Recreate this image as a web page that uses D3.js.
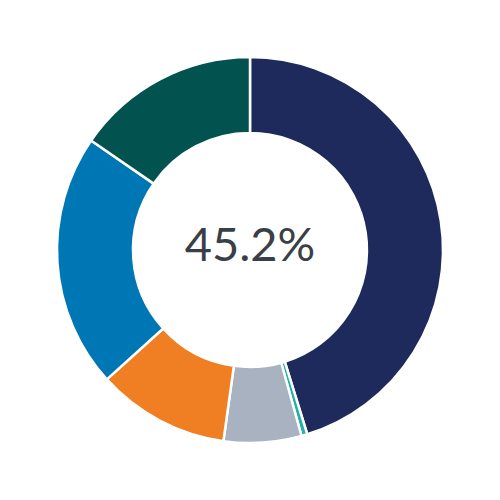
<!DOCTYPE html>
<html>
<head>
<meta charset="utf-8">
<script src="https://cdn.jsdelivr.net/npm/d3@7"></script>
<style>
  body { margin: 0; background: #fff; }
</style>
</head>
<body>
<div class="chart"></div>
<script>
const labels = ['A', 'B', 'C', 'D', 'E', 'F']
const values = [45.2, 0.5, 6.5, 11.1, 21.3, 15.4]
const colours = ['#1d2a5b', '#22b2aa', '#a8b2c1', '#f07e22', '#0077b5', '#02534f']
const centreLabel = '45.2%'

const width = 500
const height = 500
const outer = 193
const inner = 117

const svg = d3.select('.chart')
.append('svg')
.attr('width', width)
.attr('height', height)

const g = svg.append('g')
.attr('transform', `translate(${width / 2},${height / 2})`)

const pie = d3.pie()
.sort(null)
.value(d => d.value)

const arc = d3.arc()
.innerRadius(inner)
.outerRadius(outer)

const data = labels.map((l, i) => ({ label: l, value: values[i], colour: colours[i] }))

g.selectAll('path')
.data(pie(data))
.enter()
.append('path')
.attr('d', arc)
.attr('fill', d => d.data.colour)
.attr('stroke', '#ffffff')
.attr('stroke-width', 2.5)
.attr('stroke-linejoin', 'round')

g.append('text')
.attr('text-anchor', 'middle')
.attr('y', -5)
.attr('dy', '0.35em')
.attr('font-family', 'Lato, sans-serif')
.attr('font-size', 47)
.attr('fill', '#3a3e47')
.text(centreLabel)
</script>
</body>
</html>
